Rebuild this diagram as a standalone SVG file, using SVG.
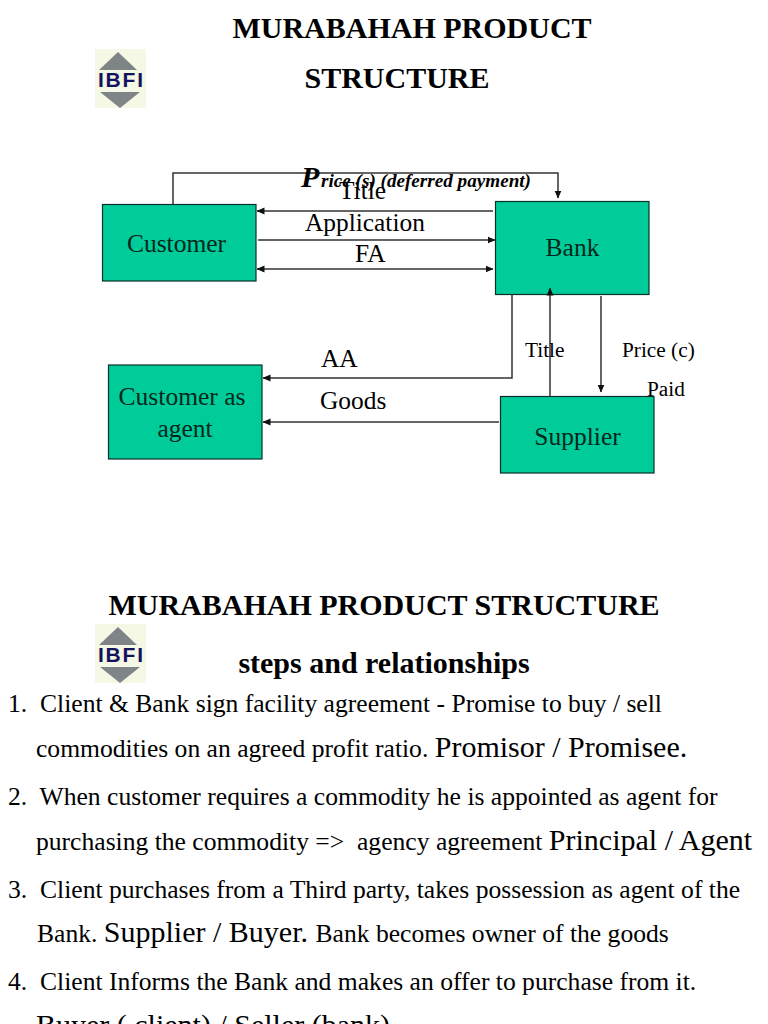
<svg xmlns="http://www.w3.org/2000/svg" width="768" height="1024" viewBox="0 0 768 1024">
<style>
text{font-family:"Liberation Serif","Times New Roman",serif;fill:#000;white-space:pre}
.h{font-size:30px;font-weight:bold}
.l{font-size:25.4px}
.n{font-size:25.500px;fill:#03261c}
.s{font-size:21.300px}
.b{font-size:25.600px}
.B{font-size:30px}
.node{fill:#00cc99;stroke:#0a2f28;stroke-width:1.2}
.c{fill:none;stroke:#333;stroke-width:1.5}
.logoT{font-family:"Liberation Sans",Arial,sans-serif;font-weight:bold;font-size:21px;fill:#14145c}
</style>
<defs>
<marker id="a" viewBox="0 0 8 8" refX="7.5" refY="4" markerWidth="8" markerHeight="8" markerUnits="userSpaceOnUse" orient="auto-start-reverse"><path d="M0 0.5L8 4L0 7.500z" fill="#111"/></marker>
<g id="logo">
<rect x="0" y="0" width="51" height="59" fill="#f6f8e6"/>
<path d="M23 3L42 21H4z" fill="#7f8587"/>
<path d="M5 43H45L25 59z" fill="#7f8587"/>
<text class="logoT" x="3" y="38" textLength="45" lengthAdjust="spacing">IBFI</text>
</g>
</defs>

<text class="h" x="412" y="38" text-anchor="middle">MURABAHAH PRODUCT</text>
<text class="h" x="397" y="88" text-anchor="middle">STRUCTURE</text>
<use href="#logo" x="95" y="49"/>

<g id="customer"><rect class="node" x="102.500" y="204.500" width="153.500" height="76.500"/><text class="n" x="176.500" y="252" text-anchor="middle">Customer</text></g>
<g id="bank"><rect class="node" x="495.500" y="201.500" width="153.500" height="93"/><text class="n" x="572.500" y="256" text-anchor="middle">Bank</text></g>
<g id="customer-agent"><rect class="node" x="108.500" y="365" width="153.500" height="94"/><text class="n" x="182" y="405" text-anchor="middle">Customer as</text><text class="n" x="185" y="437" text-anchor="middle">agent</text></g>
<g id="supplier"><rect class="node" x="500.500" y="396.500" width="153.500" height="76.500"/><text class="n" x="577.500" y="445" text-anchor="middle">Supplier</text></g>

<g id="connectors">
<path class="c" d="M173 204V173H558V198" marker-end="url(#a)"/>
<path class="c" d="M493 211H257" marker-end="url(#a)"/>
<path class="c" d="M258 240H495" marker-end="url(#a)"/>
<path class="c" d="M257 269H493" marker-start="url(#a)" marker-end="url(#a)"/>
<path class="c" d="M512 294V378H263" marker-end="url(#a)"/>
<path class="c" d="M499 422H263" marker-end="url(#a)"/>
<path class="c" d="M550 396V288" marker-end="url(#a)"/>
<path class="c" d="M601 296V392" marker-end="url(#a)"/>
</g>

<g id="labels">
<text x="301" y="187" font-size="30" font-weight="bold" font-style="italic">P</text>
<text x="321" y="187" font-size="19" font-weight="bold" font-style="italic" textLength="210" lengthAdjust="spacingAndGlyphs">rice (s) (deferred payment)</text>
<text class="l" x="339" y="199">Title</text>
<text class="l" x="305" y="231">Application</text>
<text class="l" x="355" y="262">FA</text>
<text class="l" x="321" y="367">AA</text>
<text class="l" x="320" y="409">Goods</text>
<text class="s" x="525" y="356.500">Title</text>
<text class="s" x="622" y="356.500">Price (c)</text>
<text class="s" x="647" y="395.500">Paid</text>
</g>

<text class="h" x="384" y="615" text-anchor="middle">MURABAHAH PRODUCT STRUCTURE</text>
<use href="#logo" x="95" y="624"/>
<text class="h" x="384" y="673" text-anchor="middle">steps and relationships</text>

<g id="steps">
<text class="b" x="8" y="712">1.  Client &amp; Bank sign facility agreement - Promise to buy / sell</text>
<text x="36" y="757"><tspan class="b">commodities on an agreed profit ratio. </tspan><tspan class="B">Promisor / Promisee.</tspan></text>
<text class="b" x="8" y="805">2.  When customer requires a commodity he is appointed as agent for</text>
<text x="36" y="850"><tspan class="b">purchasing the commodity =&gt;  agency agreement </tspan><tspan class="B">Principal / Agent</tspan></text>
<text class="b" x="8" y="898">3.  Client purchases from a Third party, takes possession as agent of the</text>
<text x="37" y="942"><tspan class="b">Bank. </tspan><tspan class="B">Supplier / Buyer. </tspan><tspan class="b">Bank becomes owner of the goods</tspan></text>
<text class="b" x="8" y="990">4.  Client Informs the Bank and makes an offer to purchase from it.</text>
<text class="B" x="36" y="1035">Buyer ( client) / Seller (bank)</text>
</g>
</svg>
